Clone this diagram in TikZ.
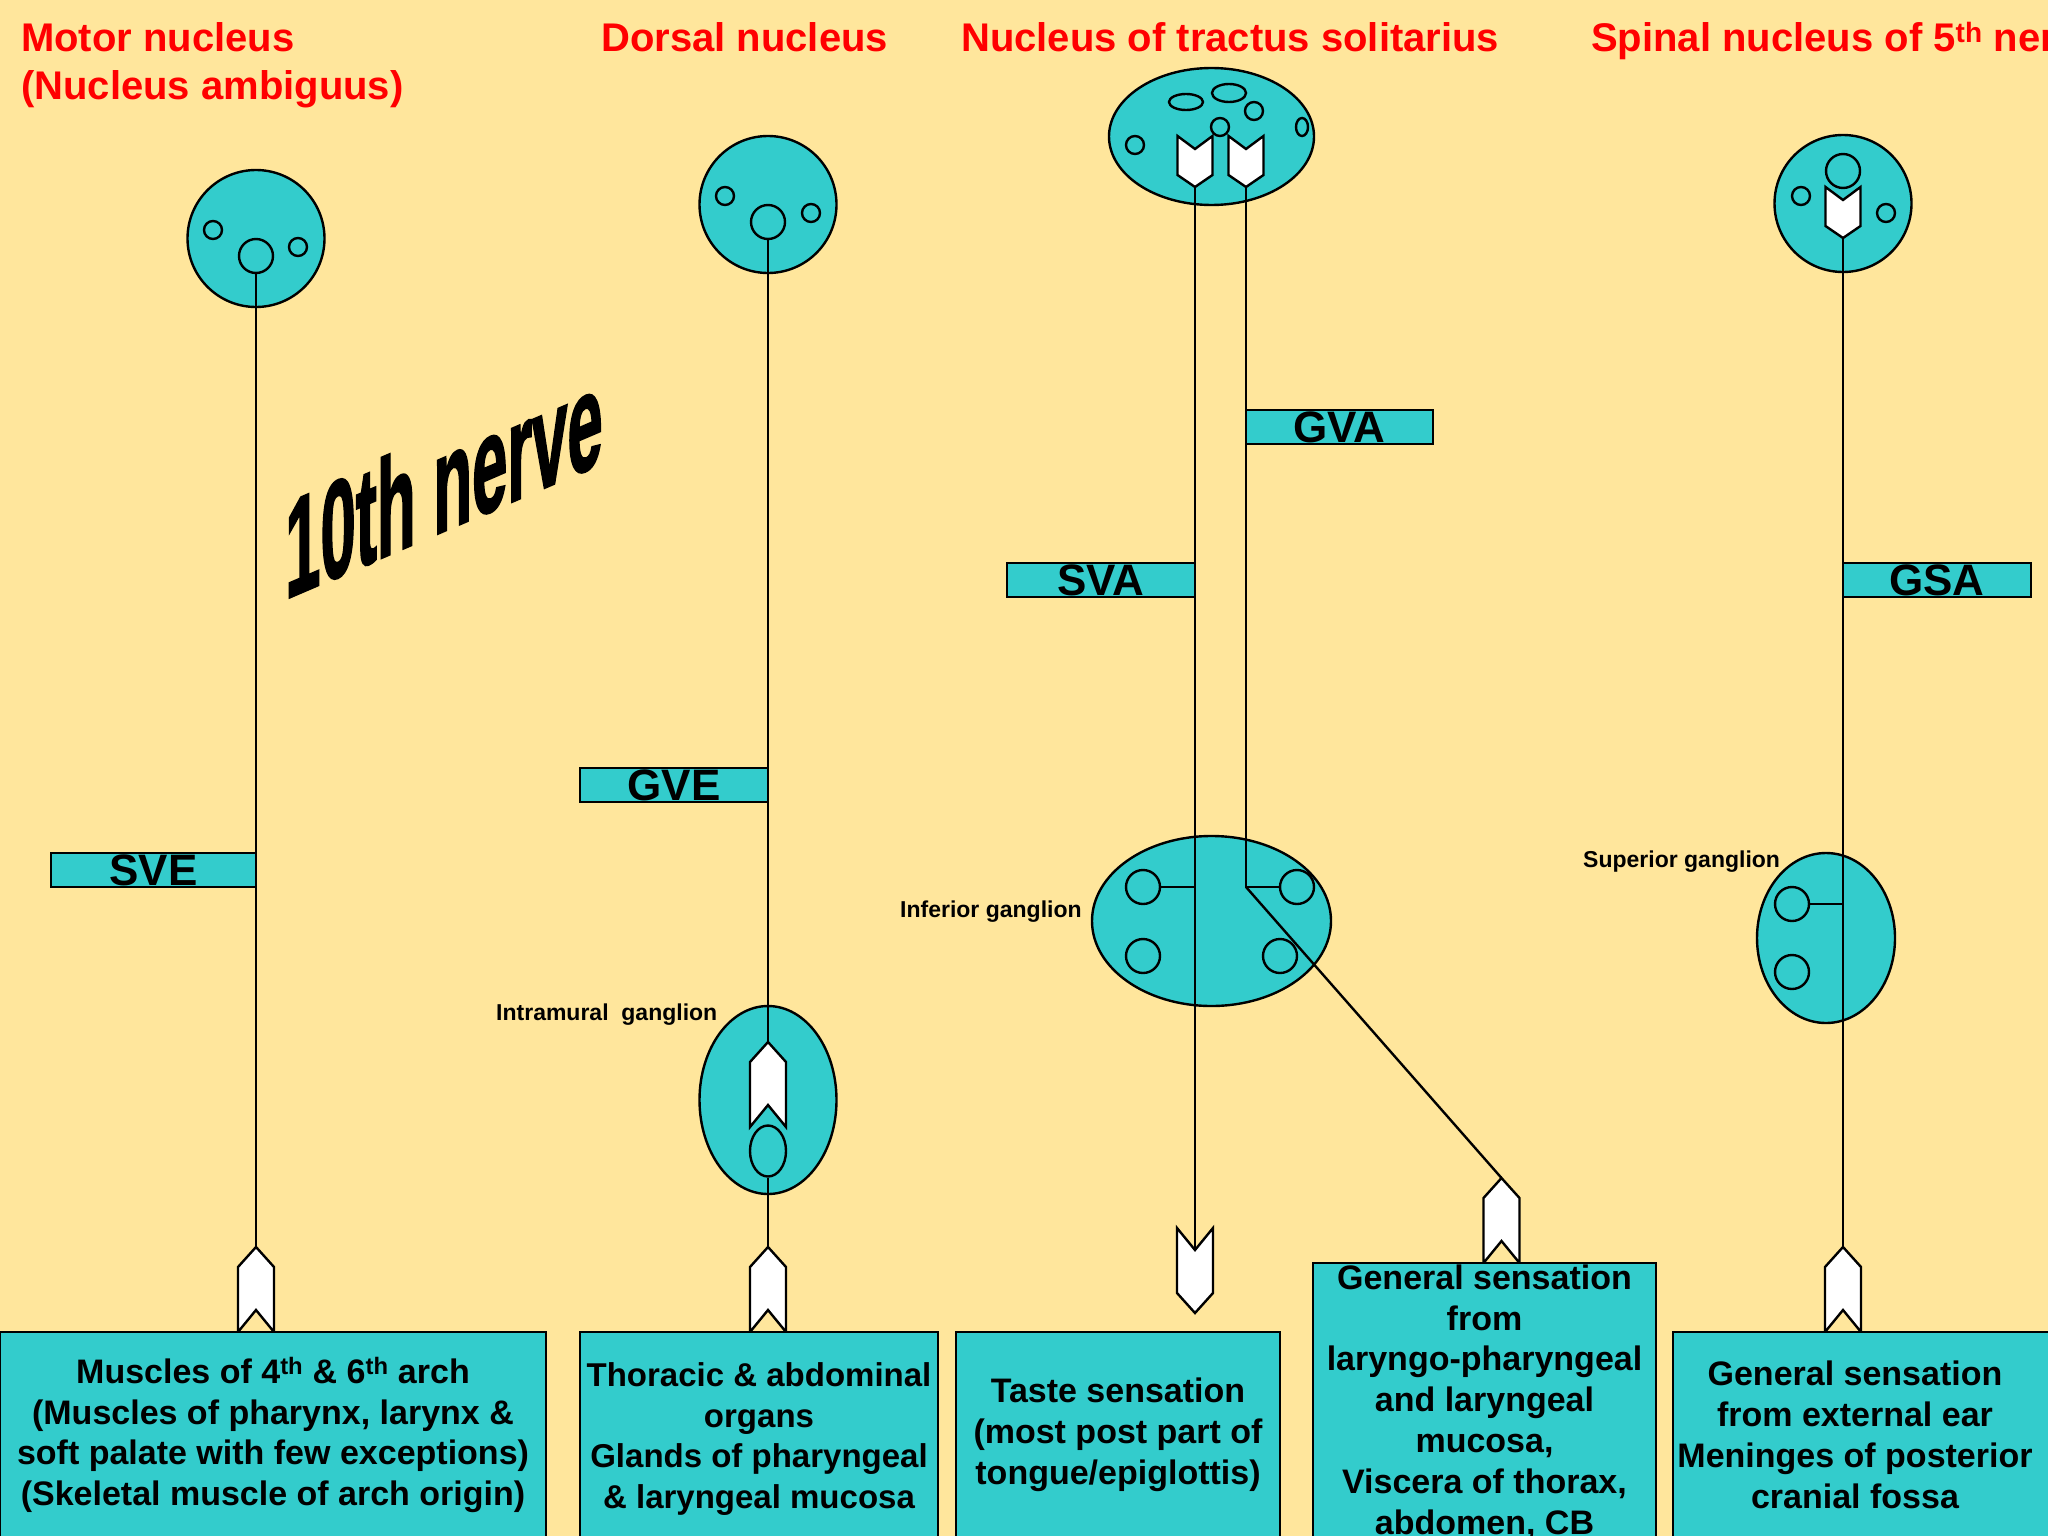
\documentclass[tikz,border=0pt]{standalone}
\usepackage{fontspec}
\setmainfont{Liberation Sans}
\newfontfamily\heavyfont{Liberation Sans}[FakeBold=2]
\usetikzlibrary{shapes.geometric}
\definecolor{bgy}{HTML}{FFE69C}
\definecolor{tealc}{HTML}{33CCCC}
\definecolor{tred}{HTML}{FF0000}
\tikzset{
  lw/.style={line width=2.4pt},
  nuc/.style={circle, draw, lw, fill=tealc, inner sep=0pt, minimum size=137pt},
  sm/.style={circle, draw, lw, inner sep=0pt, minimum size=#1},
  el/.style={ellipse, draw, lw, inner sep=0pt},
  gang/.style={ellipse, draw, lw, fill=tealc, inner sep=0pt},
  lbl/.style={draw, lw, fill=tealc, inner sep=0pt, minimum height=34pt, font=\fontsize{44}{44}\selectfont\bfseries},
  outbox/.style={draw, lw, fill=tealc, inner sep=0pt},
  boxtext/.style={align=center, inner sep=0pt, font=\fontsize{34}{40.8}\selectfont\bfseries},
  title/.style={text=tred, inner sep=0pt, align=left, font=\fontsize{40}{48}\selectfont\bfseries},
  small/.style={inner sep=0pt, font=\fontsize{23}{27}\selectfont\bfseries},
  downsmall/.pic={\path[draw, line width=2.4pt, fill=white] (-17.5,0) -- (0,13) -- (17.5,0) -- (17.5,39) -- (0,51) -- (-17.5,39) -- cycle;},
  upbig/.pic={\path[draw, line width=2.4pt, fill=white] (0,0) -- (18,20) -- (18,85) -- (0,63) -- (-18,85) -- (-18,20) -- cycle;},
  downbig/.pic={\path[draw, line width=2.4pt, fill=white] (-18,0) -- (0,22) -- (18,0) -- (18,65) -- (0,85) -- (-18,65) -- cycle;}
}
\begin{document}
\begin{tikzpicture}[x=1pt,y=-1pt]
\useasboundingbox (0,0) rectangle (2048,1536);
\fill[bgy] (0,0) rectangle (2048,1536);
\clip (0,0) rectangle (2048,1536);

% titles
\node[title, anchor=base west] (t1) at (21,100) {Motor nucleus\\(Nucleus ambiguus)};
\node[title, anchor=base west] (t2) at (601,52) {Dorsal nucleus};
\node[title, anchor=base west] (t3) at (961,52) {Nucleus of tractus solitarius};
\node[title, anchor=base west] (t4) at (1591,52) {Spinal nucleus of 5\textsuperscript{th} nerve};

% 10th nerve
\begin{scope}[shift={(444,531)}, yslant=0.43]
\node[transform shape, anchor=base, inner sep=0pt] (tenth) at (0,0) {\scalebox{0.46}[1]{\fontsize{138}{138}\selectfont\heavyfont\bfseries 10th nerve}};
\end{scope}

% ---------- column 1: motor nucleus
\node[nuc] (mn) at (256,238.5) {};
\node[sm=18pt] (mn1) at (213,230) {};
\node[sm=34pt] (mn2) at (256,256) {};
\node[sm=18pt] (mn3) at (298,247) {};
\node[lbl, minimum width=205pt] (sve) at (153.5,870) {SVE};
\coordinate (a1) at (256,1247);
\draw[lw] (mn2.south) -- (a1);
\pic at (a1) {upbig};
\node[outbox, minimum width=546pt, minimum height=206pt] (b1) at (273,1435) {};
\node[boxtext] (b1t) at (273,1435) {Muscles of 4\textsuperscript{th} \& 6\textsuperscript{th} arch\\(Muscles of pharynx, larynx \&\\soft palate with few exceptions)\\(Skeletal muscle of arch origin)};

% ---------- column 2: dorsal nucleus
\node[nuc] (dn) at (768,204.5) {};
\node[sm=18pt] (dn1) at (725,196) {};
\node[sm=34pt] (dn2) at (768,222) {};
\node[sm=18pt] (dn3) at (811,213) {};
\node[lbl, minimum width=188pt] (gve) at (674,785) {GVE};
\node[gang, minimum width=137pt, minimum height=188pt] (img) at (768,1100) {};
\node[el, minimum width=36pt, minimum height=51pt] (img1) at (768,1151) {};
\coordinate (g2) at (768,1042);
\draw[lw] (dn2.south) -- (g2);
\pic at (g2) {upbig};
\coordinate (a2) at (768,1247);
\draw[lw] (img1.south) -- (a2);
\pic at (a2) {upbig};
\node[small, anchor=west] (lab2) at (496,1015) {Intramural\ \ ganglion};
\node[outbox, minimum width=358pt, minimum height=206pt] (b2) at (759,1435) {};
\node[boxtext, font=\fontsize{33}{40.8}\selectfont\bfseries] (b2t) at (759,1439) {Thoracic \& abdominal\\organs\\Glands of pharyngeal\\\& laryngeal mucosa};

% ---------- column 3: nucleus of tractus solitarius
\node[gang, minimum width=205pt, minimum height=137pt] (ts) at (1211.5,136.5) {};
\node[el, minimum width=34pt, minimum height=16pt] (ts1) at (1186,102) {};
\node[el, minimum width=34pt, minimum height=18pt] (ts2) at (1229,93) {};
\node[sm=18pt] (ts3) at (1254,111) {};
\node[sm=18pt] (ts4) at (1220,127) {};
\node[sm=18pt] (ts5) at (1135,145) {};
\node[el, minimum width=12pt, minimum height=18pt] (ts6) at (1302,127) {};
\node[lbl, minimum width=188pt] (sva) at (1101,580) {SVA};
\node[lbl, minimum width=187pt] (gva) at (1339.5,427) {GVA};
\node[gang, minimum width=239pt, minimum height=170pt] (inf) at (1211.5,921) {};
\node[sm=34pt] (inf1) at (1143,887) {};
\node[sm=34pt] (inf2) at (1143,956) {};
\node[sm=34pt] (inf3) at (1297,887) {};
\node[sm=34pt] (inf4) at (1280,956) {};
\coordinate (c3l) at (1195,187);
\coordinate (c3r) at (1246,187);
\coordinate (j1) at (1195,887);
\coordinate (j2) at (1246,887);
\coordinate (a3) at (1195,1250);
\coordinate (a4) at (1501.5,1178);
\draw[lw] (c3l) -- (a3);
\draw[lw] (inf1.east) -- (j1);
\draw[lw] (c3r) -- (j2) -- (inf3.west);
\draw[lw] (j2) -- (a4);
\pic at (1195,136) {downsmall};
\pic at (1246,136) {downsmall};
\pic at (1195,1228) {downbig};
\pic at (a4) {upbig};
\node[small, anchor=west] (lab1) at (900,912) {Inferior ganglion};
\node[outbox, minimum width=324pt, minimum height=206pt] (b3) at (1118,1435) {};
\node[boxtext] (b3t) at (1118,1435) {Taste sensation\\(most post part of\\tongue/epiglottis)};
\node[outbox, minimum width=343pt, minimum height=274pt] (b4) at (1484.5,1400) {};
\node[boxtext] (b4t) at (1484.5,1402) {General sensation\\from\\laryngo-pharyngeal\\and laryngeal\\mucosa,\\Viscera of thorax,\\abdomen, CB};

% ---------- column 5: spinal nucleus
\node[nuc] (sp) at (1843,203.5) {};
\node[sm=34pt] (sp1) at (1843,171) {};
\node[sm=18pt] (sp2) at (1801,196) {};
\node[sm=18pt] (sp3) at (1886,213) {};
\node[lbl, minimum width=188pt] (gsa) at (1937,580) {GSA};
\node[gang, minimum width=138pt, minimum height=170pt] (sup) at (1826,938) {};
\node[sm=34pt] (sup1) at (1792,904) {};
\node[sm=34pt] (sup2) at (1792,972) {};
\coordinate (c5) at (1843,238);
\coordinate (j5) at (1843,904);
\coordinate (a5) at (1843,1247);
\draw[lw] (c5) -- (a5);
\draw[lw] (sup1.east) -- (j5);
\pic at (1843,187) {downsmall};
\pic at (a5) {upbig};
\node[small, anchor=west] (lab3) at (1583,862) {Superior ganglion};
\node[outbox, minimum width=390pt, minimum height=206pt] (b5) at (1868,1435) {};
\node[boxtext] (b5t) at (1855,1435) {General sensation\\from external ear\\Meninges of posterior\\cranial fossa};
\end{tikzpicture}
\end{document}
